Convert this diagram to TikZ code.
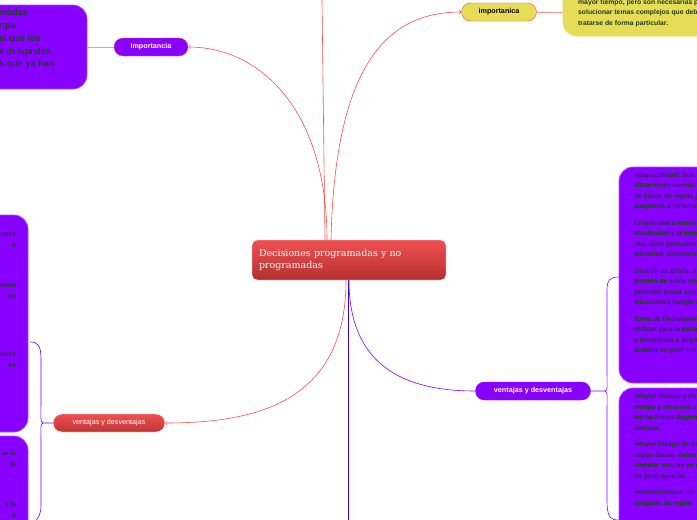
\documentclass[tikz,border=0pt]{standalone}
\usepackage{fontspec}
\setmainfont{Liberation Sans}
\newfontfamily\slab{DejaVu Serif}
\definecolor{vio}{HTML}{8800FF}
\definecolor{txtg}{HTML}{1F3D24}
\definecolor{yel}{HTML}{E6DC55}
\definecolor{redn}{HTML}{E23C3C}
\definecolor{redl}{HTML}{F05050}
\begin{document}
\begin{tikzpicture}[x=1pt,y=-1pt,
  box/.style={fill=vio,draw=vio!70!white,rounded corners=14pt,line width=0.6pt,inner sep=0pt},
  btxt/.style={text=txtg,font=\bfseries\fontsize{6.6}{10.5}\selectfont,align=left,anchor=north west,inner sep=0pt},
  pill/.style={rounded corners=9pt,minimum height=18pt,inner sep=0pt,font=\bfseries\fontsize{7.2}{8}\selectfont},
  con/.style={line width=0.6pt}]
\useasboundingbox (0,0) rectangle (697,520);
\clip (0,0) rectangle (697,520);
% connectors
\coordinate (ctop) at (325,240);
\coordinate (cbot) at (348,280);
\draw[con,redl] (325,240) -- (322,0);
\draw[con,vio!40!blue] (cbot) -- (348,520);
% boxes
\draw[box] (-60,5) rectangle (87,89);
\node[btxt,font=\bfseries\fontsize{9}{12.8}\selectfont] at (-6,9) {amadas\\ergía\\así que los\\ se desgasten\\os que ya han};
\draw[box,fill=yel,draw=yel] (563,-30) rectangle (740,36);
\node[btxt,font=\bfseries\fontsize{6.8}{10.5}\selectfont] at (578,-1) {mayor tiempo, pero son necesarias para\\solucionar temas complejos que deben\\tratarse de forma particular.};
\draw[box] (619,167) rectangle (740,383);
\node[btxt] at (634,172) {Adaptabilidad: Son útiles en\\situaciones nuevas que no\\se basan en reglas y deben\\adaptarse a circunstancias.\\[6pt]Creatividad e Innovación: la\\creatividad y la innovación\\requieren pensamiento para\\encontrar soluciones.\\[6pt]Gestión de Crisis: en la\\gestión de crisis estas\\permiten tomar acción en\\situaciones inesperadas.\\[6pt]Toma de Decisiones: se\\utilizan para la estrategia\\y decisiones a largo plazo,\\análisis en profundidad.};
\draw[box] (619,388) rectangle (740,540);
\node[btxt] at (634,394) {-Mayor Tiempo y Recursos:\\tiempo y recursos para evaluar\\las opciones disponibles, es\\costoso.\\[6pt]-Mayor Riesgo de Error: sin\\reglas claras, existe riesgo de\\cometer errores en decisiones\\no programadas.\\[6pt]-Inconsistencia: no hay un\\conjunto de reglas};
\draw[box] (-120,215) rectangle (28,432);
\node[btxt,anchor=north east,align=right] at (16,232) {las decisiones\\s\\[30pt]que tienen\\en\\[48pt]las situaciones\\es};
\draw[box] (-120,436) rectangle (28,540);
\node[btxt,anchor=north east,align=right] at (16,451) {de la\\la\\[30pt]a la\\a\\que ya\\ya};
% pills
\node[pill,fill=vio,draw=redl,text=white,minimum width=74pt] (imp) at (151,47) {importancia};
\node[pill,fill=yel,draw=redl,text=black,minimum width=75pt] (imp2) at (499,12) {importanica};
\node[pill,top color=redl,bottom color=redn!85!black,draw=white,text=white,minimum width=112pt,font=\fontsize{7.2}{8}\selectfont] (vl) at (109,423) {ventajas y desventajas};
\node[pill,fill=vio,draw=vio,text=white,minimum width=115pt] (vr) at (533,391) {ventajas y desventajas};
\node[rounded corners=5pt,top color=redl,bottom color=redn!80!black,draw=white,minimum width=194pt,minimum height=40pt,text=white,align=left,text width=180pt,font=\slab\fontsize{9.5}{11.5}\selectfont] (c) at (349,260) {Decisiones programadas y no\\programadas};
% curves
\draw[con,redl,->] (c.north) ++(-22,0) .. controls (327,110) and (260,47) .. (imp.east);
\draw[con,redl,->] (c.north) ++(-18,0) .. controls (335,60) and (390,12) .. (imp2.west);
\draw[con,redl!60!white] (imp.west) -- (87,47);
\draw[con,redl!60!white] (imp2.east) -- (563,12);
\draw[con,vio] (c.south) ++(0,0) .. controls (349,370) and (410,391) .. (vr.west);
\draw[con,redl,->] (c.south) ++(-3,0) .. controls (346,400) and (260,423) .. (vl.east);
% brackets
\draw[con,vio] (vr.east) -- (605,391) .. controls (608,391) and (607,385) .. (607,370) -- (607,290) .. controls (607,280) and (610,277) .. (619,277);
\draw[con,vio] (605,391) .. controls (608,391) and (607,398) .. (607,410) -- (607,500) .. controls (607,520) and (612,520) .. (619,520);
\draw[con,vio!70!blue] (vl.west) -- (43,423) .. controls (40,423) and (41,415) .. (41,400) -- (41,360) .. controls (41,345) and (38,342) .. (30,342);
\draw[con,vio!70!blue] (43,423) .. controls (40,423) and (41,430) .. (41,440) -- (41,505) .. controls (41,515) and (38,518) .. (35,522);
\end{tikzpicture}
\end{document}
